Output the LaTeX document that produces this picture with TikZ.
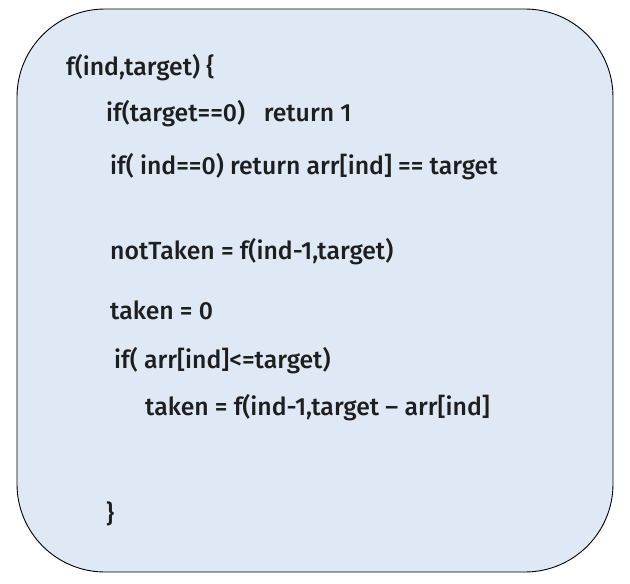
\documentclass[tikz,border=0pt]{standalone}
\usepackage{fontspec}
\setmainfont{Fira Sans}[UprightFont={* Medium}]
\definecolor{boxfill}{HTML}{DEE9F5}
\definecolor{txt}{HTML}{1E1E1E}
\begin{document}
\begin{tikzpicture}[x=1pt,y=-1pt,
  code/.style={anchor=west,inner sep=0pt,text=txt,font=\fontsize{24.8}{28}\selectfont}]
\useasboundingbox (0,0) rectangle (630,584);
\draw[fill=boxfill,draw=black,line width=0.9pt,rounded corners=88pt] (17,9) rectangle (613,572);
\node[code] (l1) at (66,68) {f(ind,target) \{};
\node[code] (l2) at (106,114) {if(target==0)\ \ \ return 1};
\node[code] (l3) at (110,167) {if( ind==0) return arr[ind] == target};
\node[code] (l4) at (110,252) {notTaken = f(ind-1,target)};
\node[code] (l5) at (110,310) {taken = 0};
\node[code] (l6) at (114,361) {if( arr[ind]<=target)};
\node[code] (l7) at (145,408) {taken = f(ind-1,target – arr[ind]};
\node[code] (l8) at (106,514) {\}};
\end{tikzpicture}
\end{document}
